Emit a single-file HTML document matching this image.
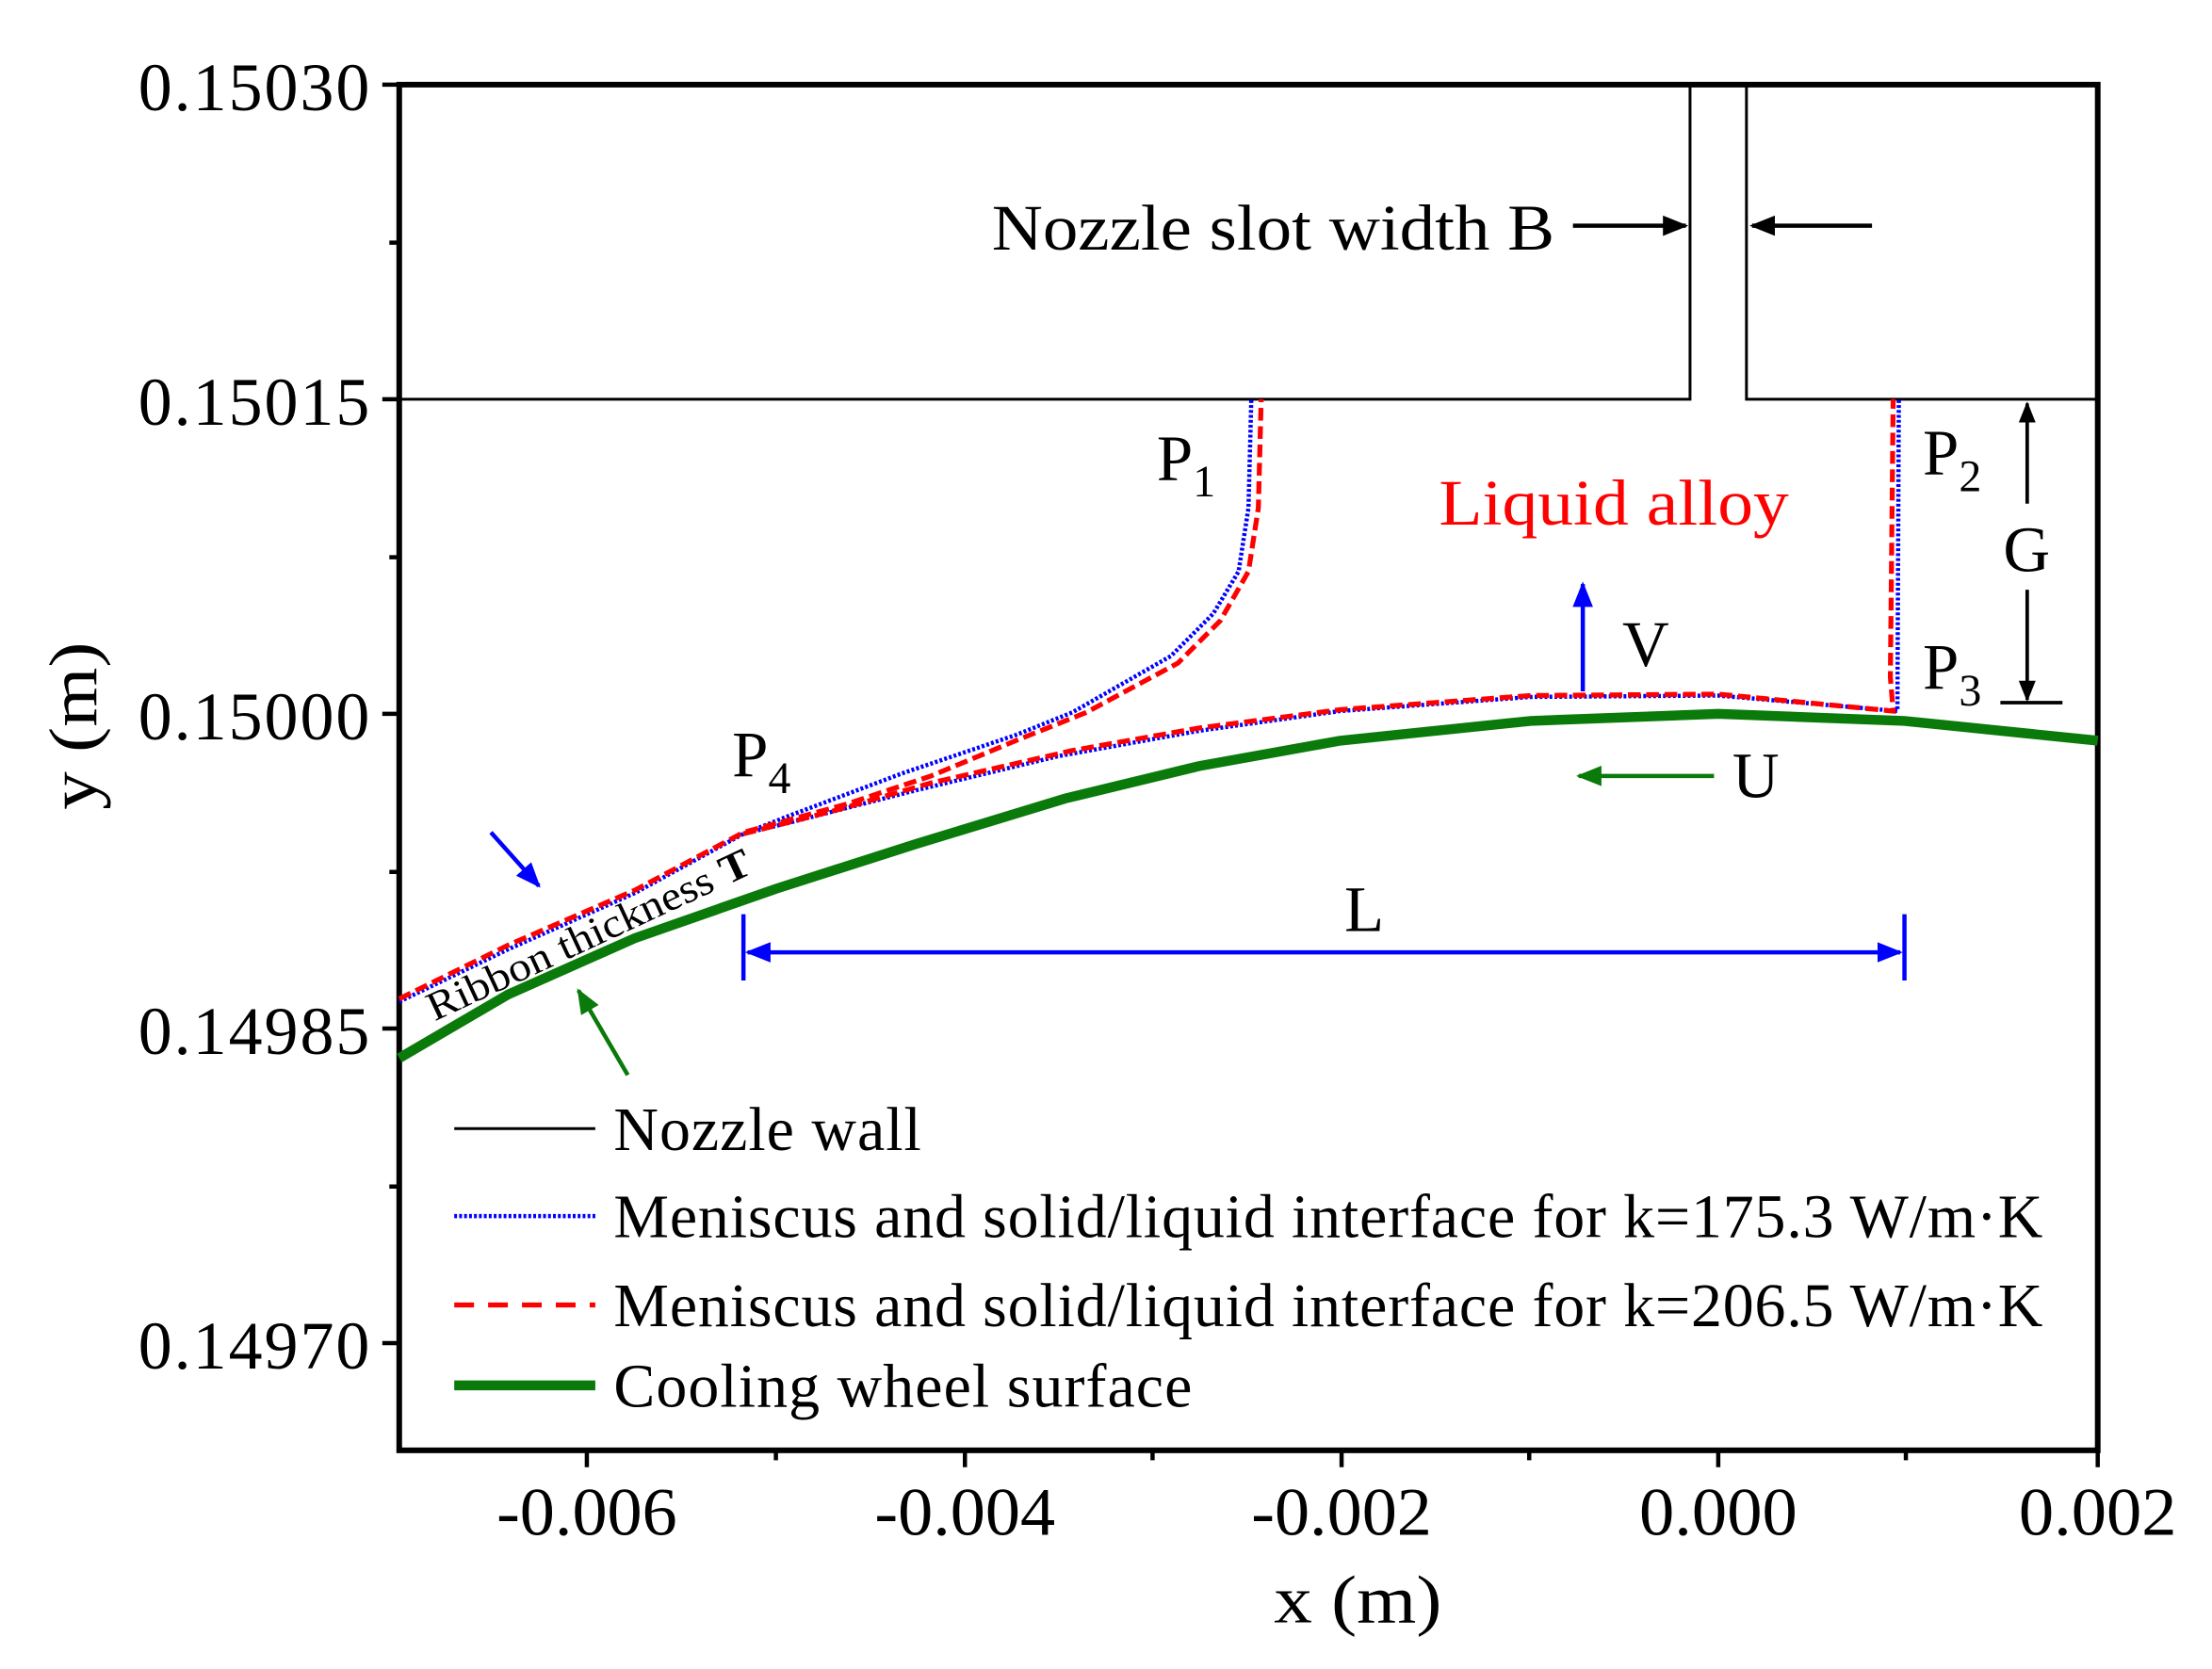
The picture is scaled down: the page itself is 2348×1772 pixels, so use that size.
<!DOCTYPE html>
<html><head><meta charset="utf-8"><style>html,body{margin:0;padding:0;background:#fff}svg{display:block}text{font-family:"Liberation Serif",serif}</style></head>
<body>
<svg width="2348" height="1772" viewBox="0 0 1568 1183" preserveAspectRatio="none" xmlns="http://www.w3.org/2000/svg">
<defs>
<marker id="ab" viewBox="0 0 10 10" refX="9" refY="5" markerWidth="6" markerHeight="6" orient="auto-start-reverse"><path d="M0,1 L10,5 L0,9 z" fill="#00f"/></marker>
<marker id="ak" viewBox="0 0 10 10" refX="9" refY="5" markerWidth="6" markerHeight="6" orient="auto-start-reverse"><path d="M0,1 L10,5 L0,9 z" fill="#000"/></marker>
<marker id="ag" viewBox="0 0 10 10" refX="9" refY="5" markerWidth="6" markerHeight="6" orient="auto-start-reverse"><path d="M0,1 L10,5 L0,9 z" fill="#0a7a0a"/></marker>
</defs>
<g stroke="#000" stroke-width="2" fill="none">
<path d="M283,283 H1198 V60 M1238,60 V283 H1487"/>
</g>
<rect x="283" y="60" width="1204" height="968" fill="none" stroke="#000" stroke-width="4"/>
<g stroke="#000" stroke-width="3">
<path d="M283,60h-12M283,283h-12M283,506h-12M283,729h-12M283,952h-12"/>
<path d="M283,172h-7M283,395h-7M283,618h-7M283,841h-7"/>
<path d="M416,1028v12M684,1028v12M951,1028v12M1218,1028v12M1487,1028v12"/>
<path d="M550,1028v7M817,1028v7M1084,1028v7M1351,1028v7"/>
</g>
<g font-size="48" lengthAdjust="spacingAndGlyphs">
<text x="98" y="78" textLength="164">0.15030</text><text x="98" y="301" textLength="164">0.15015</text><text x="98" y="524" textLength="164">0.15000</text><text x="98" y="747" textLength="164">0.14985</text><text x="98" y="970" textLength="164">0.14970</text>
</g>
<g font-size="48">
<text x="352" y="1088" textLength="128" lengthAdjust="spacingAndGlyphs">-0.006</text>
<text x="620" y="1088" textLength="128" lengthAdjust="spacingAndGlyphs">-0.004</text>
<text x="887" y="1088" textLength="128" lengthAdjust="spacingAndGlyphs">-0.002</text>
<text x="1162" y="1088" textLength="112" lengthAdjust="spacingAndGlyphs">0.000</text>
<text x="1431" y="1088" textLength="112" lengthAdjust="spacingAndGlyphs">0.002</text>
<text x="903" y="1150" textLength="119" lengthAdjust="spacingAndGlyphs">x (m)</text>
<text transform="translate(68,574) rotate(-90)" textLength="119" lengthAdjust="spacingAndGlyphs">y (m)</text>
</g>
<text x="703" y="177" font-size="46" textLength="399" lengthAdjust="spacingAndGlyphs">Nozzle slot width B</text>
<line x1="1115" y1="160" x2="1195" y2="160" stroke="#000" stroke-width="3" marker-end="url(#ak)"/>
<line x1="1327" y1="160" x2="1242" y2="160" stroke="#000" stroke-width="3" marker-end="url(#ak)"/>
<path d="M283,750 L360,705 L450,665 L550,630 L650,598 L755,566 L850,543 L950,525 L1085,511 L1218,506 L1350,511 L1487,525" fill="none" stroke="#0a7a0a" stroke-width="7"/>
<path d="M283,710 L360,673 L450,633 L527,591 L560,578 L640,548 L720,521 L760,505 L830,465 L860,435 L878,405 L885,360 L887,283" fill="none" stroke="#00f" stroke-width="3" stroke-dasharray="2,1.5"/>
<path d="M527,591 L560,583 L650,560 L750,536 L850,518 L950,504 L1085,494 L1218,493 L1345,504 L1346,283" fill="none" stroke="#00f" stroke-width="3" stroke-dasharray="2,1.5"/>
<path d="M283,708 L360,670 L450,631 L527,590 L600,570 L660,550 L720,525 L770,505 L835,470 L865,440 L885,405 L892,360 L894,283" fill="none" stroke="#f00" stroke-width="3.5" stroke-dasharray="9,4"/>
<path d="M527,591 L590,575 L660,555 L760,532 L850,516 L950,503 L1085,493 L1218,492 L1342,504 L1340,480 L1342,283" fill="none" stroke="#f00" stroke-width="3.5" stroke-dasharray="9,4"/>
<text x="820" y="340" font-size="46">P<tspan font-size="32" dy="12">1</tspan></text>
<text x="1363" y="336" font-size="46">P<tspan font-size="32" dy="12">2</tspan></text>
<text x="1363" y="488" font-size="46">P<tspan font-size="32" dy="12">3</tspan></text>
<text x="519" y="550" font-size="46">P<tspan font-size="32" dy="12">4</tspan></text>
<text x="1020" y="372" font-size="46" fill="#f00" textLength="248" lengthAdjust="spacingAndGlyphs">Liquid alloy</text>
<text x="1150" y="472" font-size="46">V</text>
<text x="1228" y="565" font-size="46">U</text>
<text x="953" y="660" font-size="46">L</text>
<text x="1420" y="405" font-size="46">G</text>
<line x1="1122" y1="490" x2="1122" y2="414" stroke="#00f" stroke-width="3" marker-end="url(#ab)"/>
<line x1="1215" y1="550" x2="1119" y2="550" stroke="#0a7a0a" stroke-width="3" marker-end="url(#ag)"/>
<line x1="530" y1="675" x2="1347" y2="675" stroke="#00f" stroke-width="3" marker-start="url(#ab)" marker-end="url(#ab)"/>
<path d="M527,648V695M1350,648V695" stroke="#00f" stroke-width="3"/>
<line x1="1437" y1="357" x2="1437" y2="286" stroke="#000" stroke-width="2.5" marker-end="url(#ak)"/>
<line x1="1437" y1="418" x2="1437" y2="496" stroke="#000" stroke-width="2.5" marker-end="url(#ak)"/>
<line x1="1418" y1="498" x2="1462" y2="498" stroke="#000" stroke-width="2.5"/>
<text transform="translate(308,724) rotate(-25)" font-size="29" textLength="250" lengthAdjust="spacingAndGlyphs">Ribbon thickness <tspan font-weight="bold">T</tspan></text>
<line x1="348" y1="590" x2="382" y2="628" stroke="#00f" stroke-width="3" marker-end="url(#ab)"/>
<line x1="445" y1="762" x2="410" y2="702" stroke="#0a7a0a" stroke-width="3" marker-end="url(#ag)"/>
<line x1="322" y1="800" x2="422" y2="800" stroke="#000" stroke-width="2"/>
<line x1="322" y1="862" x2="422" y2="862" stroke="#00f" stroke-width="3" stroke-dasharray="2,1.5"/>
<line x1="322" y1="925" x2="422" y2="925" stroke="#f00" stroke-width="3.5" stroke-dasharray="14,10"/>
<line x1="322" y1="982" x2="422" y2="982" stroke="#0a7a0a" stroke-width="7"/>
<g font-size="44" lengthAdjust="spacingAndGlyphs">
<text x="435" y="815" textLength="218">Nozzle wall</text>
<text x="435" y="877" textLength="1013">Meniscus and solid/liquid interface for k=175.3 W/m·K</text>
<text x="435" y="940" textLength="1013">Meniscus and solid/liquid interface for k=206.5 W/m·K</text>
<text x="435" y="997" textLength="410">Cooling wheel surface</text>
</g>
</svg>
</body></html>
